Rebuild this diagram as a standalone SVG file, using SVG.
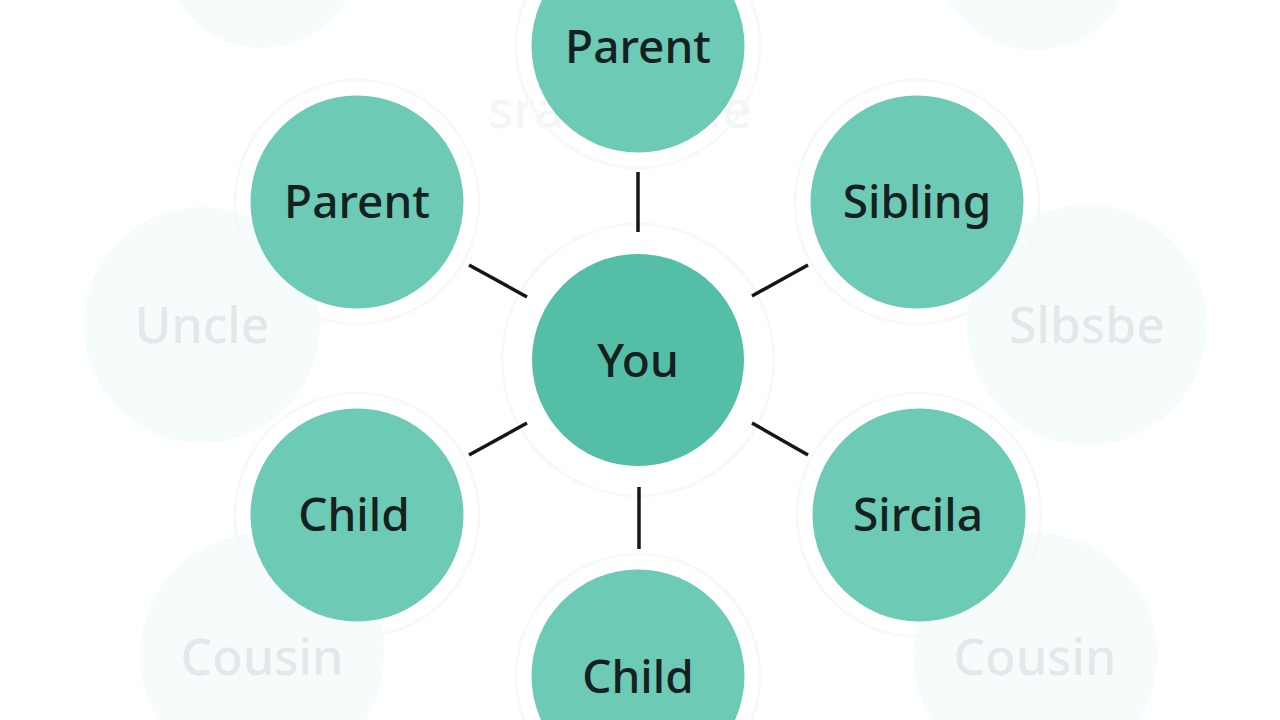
<svg xmlns="http://www.w3.org/2000/svg" width="1280" height="720" viewBox="0 0 1280 720">
  <style>
    .ghost { fill: #f6fbfb; }
    .ghost-text { font-family: "Noto Sans", "Open Sans", sans-serif; font-size: 50px; font-weight: 500; fill: #e5e8ea; text-anchor: middle; }
    .halo { fill: none; stroke: #f7f9f9; stroke-width: 3; }
    .node { fill: #6ccab5; }
    .center { fill: #55bea7; }
    .label { font-family: "Noto Sans", "Open Sans", sans-serif; font-size: 46px; font-weight: 500; fill: #152020; text-anchor: middle; }
    .edge { stroke: #121818; stroke-width: 3.5; stroke-linecap: butt; }
  </style>
  <rect width="1280" height="720" fill="#ffffff"/>

  <g id="background">
    <circle class="ghost" cx="262" cy="-50" r="98"/>
    <circle class="ghost" cx="1035" cy="-50" r="100"/>
    <circle class="ghost" cx="202" cy="325" r="118"/>
    <circle class="ghost" cx="1087" cy="325" r="120"/>
    <circle class="ghost" cx="262" cy="655" r="122"/>
    <circle class="ghost" cx="1035" cy="655" r="122"/>
    <text class="ghost-text" x="202" y="343">Uncle</text>
    <text class="ghost-text" x="1087" y="343">Slbsbe</text>
    <text class="ghost-text" x="262" y="675">Cousin</text>
    <text class="ghost-text" x="1035" y="675">Cousin</text>
    <text class="ghost-text" x="620" y="128" style="fill:#f4f5f6; font-size:52px">sraiisibshe</text>
    <circle class="halo" cx="638" cy="360" r="136"/>
    <circle class="halo" cx="638" cy="46" r="122"/>
    <circle class="halo" cx="357" cy="202" r="122"/>
    <circle class="halo" cx="917" cy="202" r="122"/>
    <circle class="halo" cx="357" cy="515" r="122"/>
    <circle class="halo" cx="919" cy="515" r="122"/>
    <circle class="halo" cx="638" cy="676" r="122"/>
  </g>

  <g id="connectors">
    <line class="edge" x1="638" y1="172" x2="638" y2="232"/>
    <line class="edge" x1="639" y1="487" x2="639" y2="549"/>
    <line class="edge" x1="469" y1="265" x2="527" y2="297"/>
    <line class="edge" x1="752" y1="296" x2="808" y2="265"/>
    <line class="edge" x1="469" y1="455" x2="527" y2="423"/>
    <line class="edge" x1="752" y1="423" x2="808" y2="455"/>
  </g>

  <g id="node-parent-top">
    <circle class="node" cx="638" cy="46" r="106.5"/>
    <text class="label" x="638" y="63">Parent</text>
  </g>
  <g id="node-parent-left">
    <circle class="node" cx="357" cy="202" r="106.5"/>
    <text class="label" x="357" y="218">Parent</text>
  </g>
  <g id="node-sibling">
    <circle class="node" cx="917" cy="202" r="106.5"/>
    <text class="label" x="917" y="218">Sibling</text>
  </g>
  <g id="node-you">
    <circle class="center" cx="638" cy="360" r="106"/>
    <text class="label" x="638" y="377">You</text>
  </g>
  <g id="node-child-left">
    <circle class="node" cx="357" cy="515" r="106.5"/>
    <text class="label" x="354" y="531">Child</text>
  </g>
  <g id="node-sircila">
    <circle class="node" cx="919" cy="515" r="106.5"/>
    <text class="label" x="918" y="531">Sircila</text>
  </g>
  <g id="node-child-bottom">
    <circle class="node" cx="638" cy="676" r="106.5"/>
    <text class="label" x="638" y="693">Child</text>
  </g>
</svg>
